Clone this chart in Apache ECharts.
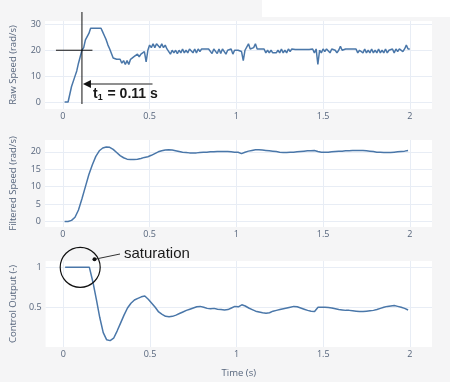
<!DOCTYPE html>
<html><head><meta charset="utf-8">
<script src="https://cdn.jsdelivr.net/npm/echarts@6/dist/echarts.min.js"></script>
<style>html,body{margin:0;padding:0;background:#f5f5f6}#c{width:450px;height:382px}</style>
</head><body><div id="c"></div>
<script>
// ---- data ----
const rawT0 = 0.01, rawDt = 0.01;
const rawSpeed = [
  0, 0, 0, 0, 6, 6.5, 10, 12, 15, 17.5,
  20, 21, 24, 24.5, 26.5, 28.5, 28.5, 28.5, 28.5, 28.5,
  28.5, 28.5, 27, 25.5, 24, 22, 20.5, 20, 17, 16.5,
  16.5, 16.5, 16.5, 15, 16, 14.5, 16, 14.5, 16.5, 16,
  17.5, 17, 18.5, 17.5, 18.5, 18.5, 19.5, 15.5, 20, 22,
  21, 22.5, 21, 22.5, 22.5, 21, 22.5, 21, 22, 20.5,
  20, 18.5, 20, 19, 20, 18.7, 20, 19, 20.5, 19,
  20, 19, 20.5, 20.5, 19, 20.5, 19, 20.5, 19.5, 20.5,
  20.5, 20.5, 20.5, 20.5, 20, 18.7, 20.5, 20, 18.7, 20.5,
  18.7, 20.5, 20, 18.5, 20, 19.5, 20.5, 18.5, 20, 20,
  20, 20, 19.5, 16, 20, 20.5, 22.5, 20.5, 20.5, 21,
  22.5, 20.5, 20.5, 20.5, 20.5, 20.5, 19, 20, 19, 20,
  19, 19.5, 19, 20, 19, 20.5, 19, 20, 19, 20.5,
  19.5, 20.5, 20.3, 20.3, 20.3, 20.3, 20.3, 20.3, 20.3, 20.3,
  20.3, 20.3, 20.3, 20.5, 19, 20.5, 14.5, 20, 19, 20.5,
  19.5, 20.5, 20.5, 19, 20.5, 20.5, 20, 19, 20, 21.5,
  20, 19.5, 20.5, 20.5, 20.5, 20.5, 20.5, 20.5, 20.5, 19,
  20, 20.5, 19, 20.5, 19, 20, 19, 20.5, 19, 20,
  19, 20.5, 19, 20, 19, 20.5, 19, 20, 19.5, 20.5,
  19, 20.5, 19.5, 20.5, 20, 19.5, 20.5, 22, 20.5, 20.5
];
const smoothT0 = 0.01, smoothDt = 0.02;
const filteredSpeed = [
  0, 0, 0.3, 1.2, 3.3, 6.5, 10, 13.5, 16.3, 18.7,
  20.3, 21.1, 21.4, 21.3, 20.7, 19.8, 18.9, 18.3, 17.9, 17.8,
  17.8, 17.9, 18.1, 18.4, 18.6, 19.0, 19.5, 20.0, 20.3, 20.5,
  20.6, 20.5, 20.3, 20.1, 19.9, 19.8, 19.7, 19.7, 19.7, 19.8,
  19.9, 19.9, 20.0, 20.0, 20.1, 20.1, 20.1, 20.1, 20.0, 19.9,
  19.9, 19.5, 19.9, 20.2, 20.4, 20.6, 20.6, 20.5, 20.4, 20.3,
  20.2, 20.1, 19.9, 19.8, 19.8, 19.9, 19.9, 20.0, 20.1, 20.2,
  20.3, 20.3, 20.4, 20.1, 19.9, 19.9, 19.9, 20.0, 20.1, 20.2,
  20.2, 20.3, 20.3, 20.4, 20.4, 20.4, 20.4, 20.3, 20.2, 20.1,
  19.9, 19.9, 19.8, 19.8, 19.8, 19.9, 20.0, 20.1, 20.2, 20.4
];
const controlOutput = [
  1, 1, 1, 1, 1, 1, 1, 1, 0.82, 0.6,
  0.37, 0.18, 0.09, 0.08, 0.11, 0.2, 0.3, 0.4, 0.49, 0.55,
  0.59, 0.61, 0.63, 0.64, 0.6, 0.55, 0.5, 0.44, 0.41, 0.385,
  0.38, 0.385, 0.40, 0.42, 0.44, 0.46, 0.475, 0.49, 0.505, 0.51,
  0.5, 0.485, 0.48, 0.485, 0.475, 0.47, 0.465, 0.47, 0.49, 0.51,
  0.505, 0.53, 0.515, 0.49, 0.47, 0.45, 0.44, 0.43, 0.425, 0.43,
  0.45, 0.46, 0.47, 0.48, 0.49, 0.5, 0.51, 0.505, 0.49, 0.475,
  0.46, 0.45, 0.445, 0.5, 0.5, 0.5, 0.495, 0.49, 0.48, 0.47,
  0.465, 0.46, 0.46, 0.455, 0.45, 0.445, 0.445, 0.45, 0.455, 0.46,
  0.47, 0.485, 0.5, 0.51, 0.515, 0.52, 0.51, 0.5, 0.485, 0.465
];
const xTicks = [0, 0.5, 1, 1.5, 2];
const rawTicks = [0, 10, 20, 30];
const filtTicks = [0, 5, 10, 15, 20];
const ctrlTicks = [0.5, 1];
const yTitles = ['Raw Speed (rad/s)', 'Filtered Speed (rad/s)', 'Control Output (-)'];
const xTitle = 'Time (s)';
const t1 = 0.11, t1Speed = 20;
const t1Label = '0.11 s';
const satLabel = 'saturation';

// ---- chart ----
const lineColor = '#4a77a9';
const gridColor = '#e8edf5';
const textColor = '#56657c';
const FONT = 'Open Sans';
function pairs(arr, t0, dt) { return arr.map((v, i) => [+(t0 + i * dt).toFixed(4), v]); }

const grids = [
  {left: 41, top: 21, width: 391, height: 88},
  {left: 41, top: 140, width: 391, height: 87},
  {left: 41, top: 261, width: 391, height: 86}
].map(g => Object.assign(g, {show: true, backgroundColor: '#ffffff', borderWidth: 0}));

function xAxis(i, withName) {
  return {
    type: 'value', gridIndex: i, min: -0.103, max: 2.128,
    axisLine: {show: false},
    axisTick: {show: false, customValues: xTicks},
    axisLabel: {customValues: xTicks, color: textColor, fontSize: 9, fontFamily: FONT, margin: 3},
    splitLine: {show: true, lineStyle: {color: gridColor, width: 1}},
    name: withName ? xTitle : '', nameLocation: 'middle', nameGap: 21,
    nameTextStyle: {color: textColor, fontSize: 9.5, fontFamily: FONT}
  };
}
function yAxis(i, min, max, ticks, title) {
  return {
    type: 'value', gridIndex: i, min: min, max: max,
    axisLine: {show: false},
    axisTick: {show: false, customValues: ticks},
    axisLabel: {customValues: ticks, color: textColor, fontSize: 9, fontFamily: FONT, margin: 4},
    splitLine: {show: true, lineStyle: {color: gridColor, width: 1}},
    name: title, nameLocation: 'middle', nameRotate: 90, nameGap: 27,
    nameTextStyle: {color: textColor, fontSize: 9.5, fontFamily: FONT}
  };
}
function series(i, data) {
  return {type: 'line', xAxisIndex: i, yAxisIndex: i, data: data, showSymbol: false,
    lineStyle: {color: lineColor, width: 1.5}, animation: false, silent: true};
}

const chart = echarts.init(document.getElementById('c'), null, {renderer: 'canvas'});
chart.setOption({
  backgroundColor: '#f5f5f6',
  animation: false,
  grid: grids,
  xAxis: [xAxis(0, false), xAxis(1, false), xAxis(2, true)],
  yAxis: [
    yAxis(0, -2.7, 31.3, rawTicks, yTitles[0]),
    yAxis(1, -1.6, 23.4, filtTicks, yTitles[1]),
    yAxis(2, 0, 1.08, ctrlTicks, yTitles[2])
  ],
  series: [
    series(0, pairs(rawSpeed, rawT0, rawDt)),
    series(1, pairs(filteredSpeed, smoothT0, smoothDt)),
    series(2, pairs(controlOutput, smoothT0, smoothDt))
  ]
});

// ---- annotations ----
const p = chart.convertToPixel({gridIndex: 0}, [t1, t1Speed]);
const sat = chart.convertToPixel({gridIndex: 2}, [0.097, 1]);
chart.setOption({
  graphic: [
    {type: 'rect', shape: {x: 262, y: 0, width: 188, height: 17}, style: {fill: '#ffffff'}, z: 0},
    {type: 'line', shape: {x1: p[0], y1: 12, x2: p[0], y2: 104}, style: {stroke: '#111', lineWidth: 1}, z: 100},
    {type: 'line', shape: {x1: p[0] - 26, y1: p[1], x2: p[0] + 10.5, y2: p[1]}, style: {stroke: '#111', lineWidth: 1}, z: 100},
    {type: 'line', shape: {x1: p[0] + 7, y1: 84, x2: 152.5, y2: 84}, style: {stroke: '#6a6a6a', lineWidth: 1.6}, z: 100},
    {type: 'polygon', shape: {points: [[p[0] + 1, 84], [p[0] + 9, 80], [p[0] + 9, 88]]}, style: {fill: '#111'}, z: 100},
    {type: 'text', x: 93, y: 94, z: 100, style: {
      text: '{a|t}{s|1}{a| = ' + t1Label + '}', verticalAlign: 'middle', align: 'left',
      rich: {a: {fontFamily: 'Liberation Sans', fontWeight: 'bold', fontSize: 14, fill: '#1a1a1a'},
             s: {fontFamily: 'Liberation Sans', fontWeight: 'bold', fontSize: 9, fill: '#1a1a1a', padding: [8, 1, 0, 0]}}
    }},
    {type: 'circle', shape: {cx: sat[0], cy: sat[1], r: 20}, style: {fill: 'none', stroke: '#111', lineWidth: 1.2}, z: 100},
    {type: 'circle', shape: {cx: 94.5, cy: 259.3, r: 2}, style: {fill: '#111'}, z: 101},
    {type: 'line', shape: {x1: 94.5, y1: 259.3, x2: 120, y2: 254}, style: {stroke: '#333', lineWidth: 1}, z: 100},
    {type: 'text', x: 124, y: 253.5, z: 100, style: {text: satLabel, fontFamily: 'Liberation Sans', fontSize: 15, fill: '#1a1a1a', verticalAlign: 'middle'}}
  ]
});
</script></body></html>
